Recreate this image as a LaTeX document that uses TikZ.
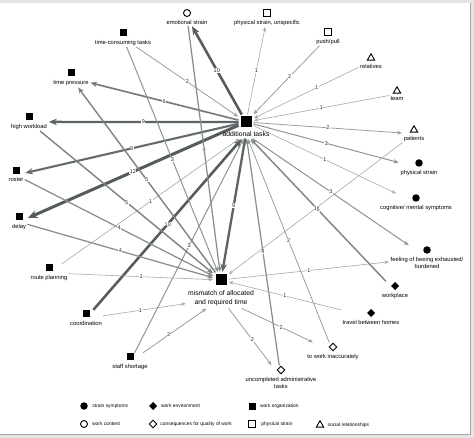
\documentclass[tikz,border=0pt]{standalone}
\usepackage{fontspec}
\setmainfont{Liberation Sans}
\usetikzlibrary{arrows.meta}
\usetikzlibrary{shapes.geometric}
\usetikzlibrary{positioning}
\usetikzlibrary{fit}
\usetikzlibrary{backgrounds}
\definecolor{kante}{rgb}{0.33,0.36,0.37}
\definecolor{rahmen}{rgb}{0.9,0.9,0.9}
% symbol, text below it, and a box round both that the edges end at
\newcommand{\knoten}[5]{%
  \node[#4] (#1-s) at (#2,#3) {};
  \node[lbl, below=3pt of #1-s] (#1-t) {#5};
  \node[fit=(#1-s)(#1-t), inner sep=0.5pt] (#1) {};
}

\begin{document}
\begin{tikzpicture}[x=1pt, y=-1pt,
  sym/.style={inner sep=0pt, outer sep=0pt},
  sq/.style={sym, rectangle, fill=black, minimum size=7pt},
  bigsq/.style={sym, rectangle, fill=black, minimum size=11pt, outer sep=2pt},
  osq/.style={sym, rectangle, draw=black, line width=0.9pt, fill=white, minimum size=6.5pt},
  dot/.style={sym, circle, fill=black, minimum size=7.5pt},
  ocirc/.style={sym, circle, draw=black, line width=0.9pt, fill=white, minimum size=7pt},
  tri/.style={sym, regular polygon, regular polygon sides=3, draw=black, line width=0.9pt, fill=white, minimum size=8.5pt},
  dia/.style={sym, diamond, fill=black, minimum size=8pt},
  odia/.style={sym, diamond, draw=black, line width=0.8pt, fill=white, minimum size=7.5pt},
  lbl/.style={font=\fontsize{5.8}{6.8}\selectfont, inner sep=0.5pt, align=center, text=black},
  big/.style={font=\fontsize{6.8}{9.5}\selectfont, inner sep=0pt, outer sep=2pt, align=center},
  leg/.style={font=\fontsize{4.9}{6}\selectfont, inner sep=0pt},
  num/.style={font=\fontsize{5.5}{5.5}\selectfont, fill=white, inner sep=0.4pt, text=black!85},
  wt/.code={\pgfmathsetmacro\lw{0.35+0.22*#1}%
    \pgfmathtruncatemacro\sh{min(100,50+5*#1)}%
    \edef\kantetmp{\noexpand\tikzset{line width=\lw pt, draw=kante!\sh}}\kantetmp
    \tikzset{-{Stealth[length=3pt 2.2, width=2.4pt 1.8]}, shorten >=0.5pt}}]
\useasboundingbox (0,0) rectangle (474,438);

% the two centres
\node[bigsq] (A-s) at (246,122) {};
\node[big, below=0pt of A-s] (A-t) {additional tasks};
\node[bigsq] (M-s) at (221,280) {};
\node[big, below=1pt of M-s] (M-t) {mismatch of allocated\\and required time};

% outer nodes
\knoten{es}{187}{13}{ocirc}{emotional strain}
\knoten{psu}{267}{13}{osq}{physical strain, unspecific}
\knoten{pp}{328}{32}{osq}{push/pull}
\knoten{rel}{371}{58}{tri}{relatives}
\knoten{team}{397}{91}{tri}{team}
\knoten{pat}{414}{130}{tri}{patients}
\knoten{phs}{419}{163}{dot}{physical strain}
\knoten{cog}{416}{198}{dot}{cognitive/ mental symptoms}
\knoten{exh}{427}{250}{dot}{feeling of beeing exhausted/\\burdened}
\knoten{wp}{395}{286}{dia}{workplace}
\knoten{trav}{371}{313}{dia}{travel between homes}
\knoten{inacc}{333}{347}{odia}{to work inaccurately}
\knoten{unc}{281}{370}{odia}{uncompleted administrative\\tasks}
\knoten{staff}{130}{357}{sq}{staff shortage}
\knoten{coord}{86}{314}{sq}{coordination}
\knoten{route}{49}{268}{sq}{route planning}
\knoten{delay}{19}{217}{sq}{delay}
\knoten{roster}{16}{171}{sq}{roster}
\knoten{hw}{29}{117}{sq}{high workload}
\knoten{tp}{71}{73}{sq}{time pressure}
\knoten{tct}{123}{33}{sq}{time-consuming tasks}

\begin{scope}[on background layer]
% frame
\fill[rahmen] (0,0) rectangle (474,438);
\fill[white] (0,3) rectangle (470,434);
\draw[black!35, line width=0.4pt] (470,3) -- (470,434) -- (0,434);
% edges of additional tasks
\draw[wt=10] (A-s) -- node[num]{10} (es);
\draw[wt=1] (A-s) -- node[num]{1} (psu);
\draw[wt=2] (pp) -- node[num, pos=0.45]{2} (A-s);
\draw[wt=1] (rel) -- node[num, pos=0.4]{1} (A-s);
\draw[wt=1] (team) -- node[num]{1} (A-s);
\draw[wt=2] (A-s) -- node[num]{2} (pat);
\draw[wt=3] (A-s) -- node[num]{3} (phs);
\draw[wt=1] (A-s) -- node[num]{1} (cog);
\draw[wt=3] (A-t) -- node[num]{3} (exh);
\draw[wt=5] (wp) -- node[num]{5} (A-t);
\draw[wt=2] (inacc) -- node[num]{2} (A-t);
\draw[wt=4] (unc) -- node[num]{4} (A-t);
\draw[wt=3] (staff) -- node[num]{3} (A-t);
\draw[wt=10] (coord) -- node[num]{10} (A-t);
\draw[wt=1] (route) -- node[num]{1} (A-t);
\draw[wt=12] (A-s) -- node[num]{12} (delay);
\draw[wt=8] (A-s) -- node[num]{8} (roster);
\draw[wt=9] (A-s) -- node[num]{9} (hw);
\draw[wt=6] (A-s) -- node[num]{6} (tp);
\draw[wt=2] (tct) -- node[num]{2} (A-s);
\draw[wt=9] (A-t) -- node[num]{9} (M-s);
% edges of mismatch
\draw[wt=4] (es) -- node[num]{4} (M-s);
\draw[wt=3] (tct) -- node[num]{3} (M-s);
\draw[wt=5] (M-s) -- node[num]{5} (tp);
\draw[wt=5] (hw) -- node[num]{5} (M-s);
\draw[wt=4] (roster) -- node[num]{4} (M-s);
\draw[wt=4] (delay) -- node[num]{4} (M-s);
\draw[wt=1] (route) -- node[num]{1} (M-s);
\draw[wt=1] (coord) -- node[num, pos=0.45]{1} (M-t);
\draw[wt=2] (staff) -- node[num, pos=0.4]{2} (M-t);
\draw[wt=2] (M-t) -- node[num, pos=0.55]{2} (unc);
\draw[wt=2] (M-t) -- node[num, pos=0.55]{2} (inacc);
\draw[wt=1] (trav) -- node[num]{1} (M-s);
\draw[wt=1] (M-s) -- node[num]{1} (exh);
\draw[wt=1] (pat) -- node[num]{1} (M-s);
\end{scope}

% legend
\node[dot] (l1) at (84,406) {};
\node[leg, right=4.5pt of l1] (l1-t) {strain symptoms};
\node[dia] (l2) at (153,406) {};
\node[leg, right=4pt of l2] (l2-t) {work environment};
\node[sq] (l3) at (252,406) {};
\node[leg, right=4.5pt of l3] (l3-t) {work organization};
\node[ocirc] (l4) at (84,424) {};
\node[leg, right=4.5pt of l4] (l4-t) {work content};
\node[odia] (l5) at (153,424) {};
\node[leg, right=3.5pt of l5] (l5-t) {consequences for quality of work};
\node[osq] (l6) at (252,424) {};
\node[leg, right=6pt of l6] (l6-t) {physical strain};
\node[tri] (l7) at (320,425) {};
\node[leg, right=5pt of l7] (l7-t) {social relationships};
\end{tikzpicture}
\end{document}
